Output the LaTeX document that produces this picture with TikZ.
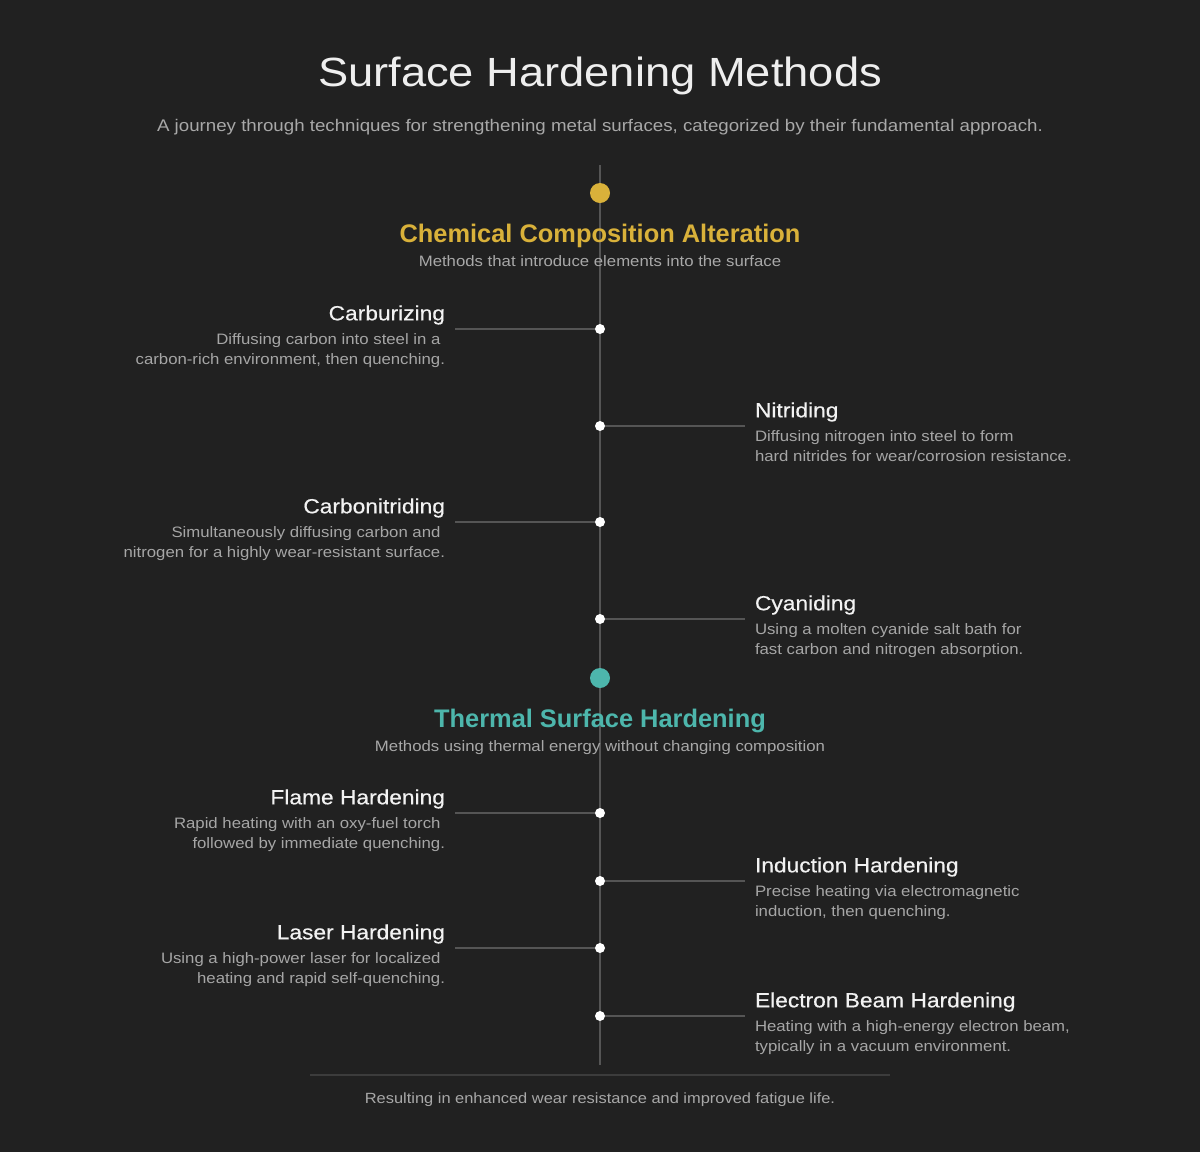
\documentclass[tikz,border=0pt]{standalone}
\usepackage{fontspec}
\setmainfont{Liberation Sans}[FakeStretch=1.11]
\newfontfamily\catfont{Liberation Sans}[FakeStretch=1.0]
\newfontfamily\medfont{Liberation Sans}[FakeStretch=1.11, FakeBold=0.4]
\definecolor{bg}{HTML}{212121}
\definecolor{titlec}{HTML}{EEEEEE}
\definecolor{subc}{HTML}{A8A8A8}
\definecolor{descc}{HTML}{A6A6A6}
\definecolor{itemc}{HTML}{F2F2F2}
\definecolor{linec}{HTML}{555555}
\definecolor{rulec}{HTML}{3C3C3C}
\definecolor{chemc}{HTML}{D9B13A}
\definecolor{thermc}{HTML}{4DB6AC}
\tikzset{
  txt/.style={inner sep=0pt, outer sep=0pt},
  ititle/.style={txt, text=itemc, font=\medfont\fontsize{20.5}{24}\selectfont},
  idesc/.style={txt, text=descc, font=\fontsize{15.1}{20}\selectfont},
  ctitle/.style={txt, font=\catfont\bfseries\fontsize{25.4}{28}\selectfont, anchor=base},
  csub/.style={txt, text=subc, font=\fontsize{15.1}{20}\selectfont, anchor=base},
  bigdot/.style={circle, inner sep=0pt, minimum size=20pt},
  smalldot/.style={circle, fill=white, inner sep=0pt, minimum size=10pt},
  conn/.style={draw=linec, line width=1.6pt},
}
\begin{document}
\begin{tikzpicture}[x=1pt,y=-1pt]
\fill[bg] (0,0) rectangle (1200,1152);
\useasboundingbox (0,0) rectangle (1200,1152);
% header
\node[txt, anchor=base, text=titlec, font=\fontsize{40.8}{46}\selectfont] (title) at (600,86) {Surface Hardening Methods};
\node[txt, anchor=base, text=subc, font=\fontsize{16.85}{20}\selectfont] (subtitle) at (600,131) {A journey through techniques for strengthening metal surfaces, categorized by their fundamental approach.};
% spine
\coordinate (spTop) at (600,165);
\coordinate (spBot) at (600,1065);
\draw[linec, line width=1.6pt] (spTop) -- (spBot);
% categories
\node[bigdot, fill=chemc] (chemdot) at (600,193) {};
\node[ctitle, text=chemc] (chemT) at (600,242) {Chemical Composition Alteration};
\node[csub] (chemS) at (600,266) {Methods that introduce elements into the surface};
\node[bigdot, fill=thermc] (thermdot) at (600,678) {};
\node[ctitle, text=thermc] (thermT) at (600,727) {Thermal Surface Hardening};
\node[csub] (thermS) at (600,751) {Methods using thermal energy without changing composition};
% items: #1 name, #2 y, #3 title, #4 line1, #5 line2
\newcommand{\leftitem}[5]{%
  \node[smalldot] (#1dot) at (600,#2) {};
  \coordinate (#1end) at (455,#2);
  \draw[conn] (#1end) -- (#1dot);
  \node[ititle, anchor=base east] (#1T) at (445,#2-8.7) {#3};
  \node[idesc, anchor=base east] (#1Da) at (445,#2+15.7) {#4};
  \node[idesc, anchor=base east] (#1Db) at (445,#2+35.7) {#5};
}
\newcommand{\rightitem}[5]{%
  \node[smalldot] (#1dot) at (600,#2) {};
  \coordinate (#1end) at (745,#2);
  \draw[conn] (#1dot) -- (#1end);
  \node[ititle, anchor=base west] (#1T) at (755,#2-8.7) {#3};
  \node[idesc, anchor=base west] (#1Da) at (755,#2+15.7) {#4};
  \node[idesc, anchor=base west] (#1Db) at (755,#2+35.7) {#5};
}
\leftitem{carb}{329}{Carburizing}{Diffusing carbon into steel in a\kern4.5pt}{carbon-rich environment, then quenching.}
\rightitem{nitr}{426}{Nitriding}{Diffusing nitrogen into steel to form}{hard nitrides for wear/corrosion resistance.}
\leftitem{cbnt}{522}{Carbonitriding}{Simultaneously diffusing carbon and\kern4.5pt}{nitrogen for a highly wear-resistant surface.}
\rightitem{cyan}{619}{Cyaniding}{Using a molten cyanide salt bath for}{fast carbon and nitrogen absorption.}
\leftitem{flam}{813}{Flame Hardening}{Rapid heating with an oxy-fuel torch\kern4.5pt}{followed by immediate quenching.}
\rightitem{indu}{881}{Induction Hardening}{Precise heating via electromagnetic}{induction, then quenching.}
\leftitem{lasr}{948}{Laser Hardening}{Using a high-power laser for localized\kern4.5pt}{heating and rapid self-quenching.}
\rightitem{ebea}{1016}{Electron Beam Hardening}{Heating with a high-energy electron beam,}{typically in a vacuum environment.}
% footer
\coordinate (ruleL) at (310,1075);
\coordinate (ruleR) at (890,1075);
\draw[rulec, line width=1.5pt] (ruleL) -- (ruleR);
\node[txt, anchor=base, text=subc, font=\fontsize{14.8}{20}\selectfont] (footer) at (600,1103) {Resulting in enhanced wear resistance and improved fatigue life.};
\end{tikzpicture}
\end{document}
